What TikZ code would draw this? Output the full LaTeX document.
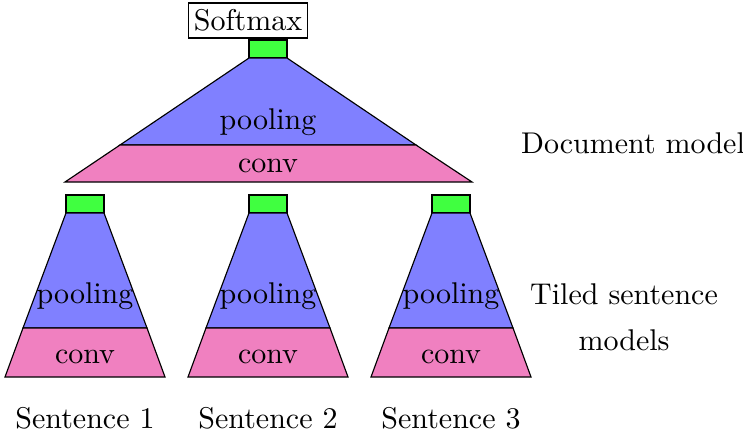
\documentclass[tikz,border=0pt]{standalone}
\begin{document}
\begin{tikzpicture}[x=0.35pt,y=-0.35pt,
  blu/.style={fill={rgb,255:red,128;green,128;blue,255},draw=black,line width=0.4pt},
  pnk/.style={fill={rgb,255:red,240;green,128;blue,192},draw=black,line width=0.4pt},
  grn/.style={fill={rgb,255:red,64;green,255;blue,64},draw=black,line width=0.4pt},
  lbl/.style={font=\fontsize{10.5}{12}\selectfont,inner sep=0pt}]
\useasboundingbox (0,0) rectangle (743,430);
\node[draw,lbl,inner sep=2pt,minimum width=82*0.35pt,minimum height=35*0.35pt] (sm) at (248,20.5) {Softmax};
\node[grn,minimum width=38*0.35pt,minimum height=18*0.35pt,inner sep=0pt] (g0) at (268,49) {};
\draw[blu] (249,58) -- (287,58) -- (416,145) -- (120,145) -- cycle;
\draw[pnk] (120,145) -- (416,145) -- (472,182) -- (65,182) -- cycle;
\node[lbl] (p0) at (268,122) {pooling};
\node[lbl] (c0) at (268,166) {conv};
\node[lbl] (dm) at (633,143) {Document model};
\foreach \c/\n in {85/1,268/2,451/3}{
  \node[grn,minimum width=38*0.35pt,minimum height=18*0.35pt,inner sep=0pt] (g\n) at (\c,204) {};
  \draw[blu] (\c-19,213) -- (\c+19,213) -- (\c+62,328) -- (\c-62,328) -- cycle;
  \draw[pnk] (\c-62,328) -- (\c+62,328) -- (\c+80,377) -- (\c-80,377) -- cycle;
  \node[lbl] (p\n) at (\c,296) {pooling};
  \node[lbl] (c\n) at (\c,357) {conv};
  \node[lbl] (s\n) at (\c,418) {Sentence \n};
}
\node[lbl,align=center] (ts) at (624,317) {Tiled sentence\\[4pt]models};
\end{tikzpicture}
\end{document}
